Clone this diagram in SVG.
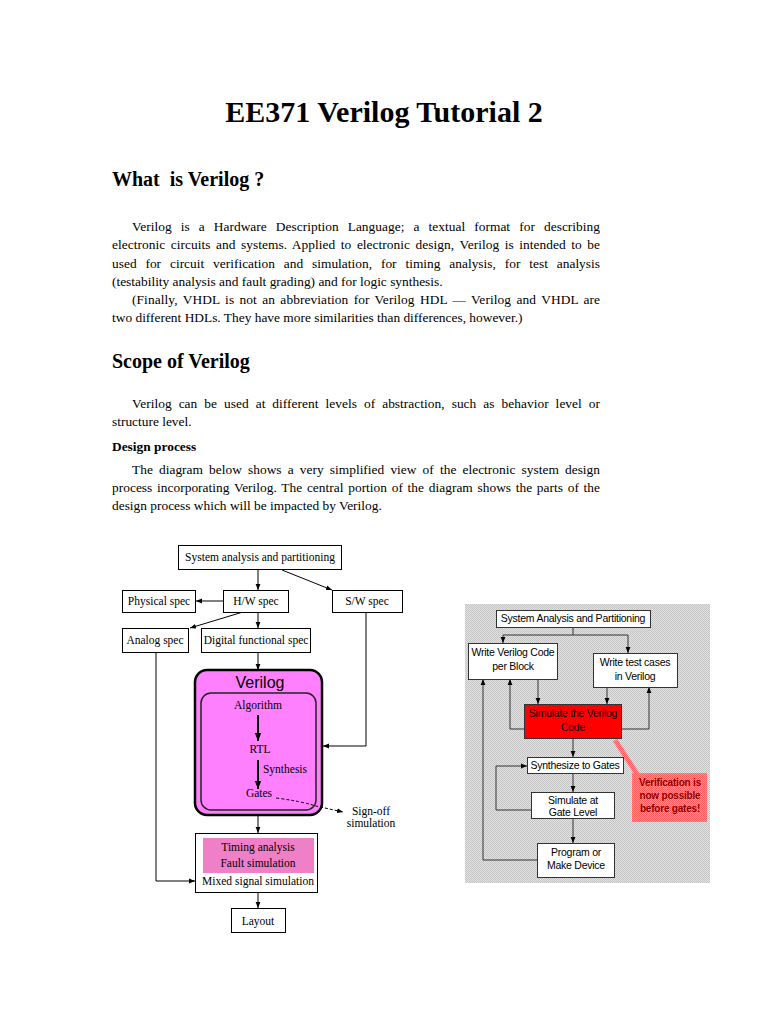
<svg xmlns="http://www.w3.org/2000/svg" width="768" height="1024" viewBox="0 0 768 1024">
<defs>
<style>
.serif{font-family:"Liberation Serif","Times New Roman",serif;fill:#000}
.body{font-family:"Liberation Serif","Times New Roman",serif;font-size:13.4px;fill:#000}
.h1{font-family:"Liberation Serif","Times New Roman",serif;font-size:30px;font-weight:bold}
.h2{font-family:"Liberation Serif","Times New Roman",serif;font-size:20px;font-weight:bold;white-space:pre}
.lt{font-family:"Liberation Serif","Times New Roman",serif;font-size:11.5px;text-anchor:middle;fill:#000}
.rt{font-family:"Liberation Sans",Arial,sans-serif;font-size:10.5px;letter-spacing:-0.25px;text-anchor:middle;fill:#000}
.ct{font-family:"Liberation Sans",Arial,sans-serif;font-size:10px;font-weight:bold;letter-spacing:-0.2px;text-anchor:middle;fill:#8a0000}
.lbox{fill:#fff;stroke:#000;stroke-width:1}
.rbox{fill:#fff;stroke:#333;stroke-width:1}
.ln{fill:none;stroke:#000;stroke-width:1}
.rln{fill:none;stroke:#333;stroke-width:1}
</style>
<marker id="ah" viewBox="0 0 10 10" refX="10" refY="5" markerWidth="6" markerHeight="6" markerUnits="userSpaceOnUse" orient="auto"><path d="M0,1 L10,5 L0,9 z" fill="#000"/></marker>
<marker id="ahb" viewBox="0 0 10 10" refX="10" refY="5" markerWidth="8" markerHeight="8" markerUnits="userSpaceOnUse" orient="auto"><path d="M0,1 L10,5 L0,9 z" fill="#000"/></marker>
<pattern id="gray" width="2" height="2" patternUnits="userSpaceOnUse"><rect width="2" height="2" fill="#e2e2e2"/><rect width="1" height="1" fill="#c4c4c4"/><rect x="1" y="1" width="1" height="1" fill="#c4c4c4"/></pattern>
<pattern id="pink" width="2" height="2" patternUnits="userSpaceOnUse"><rect width="2" height="2" fill="#ff9a9a"/><rect width="1" height="1" fill="#ff5c5c"/><rect x="1" y="1" width="1" height="1" fill="#ff5c5c"/></pattern>
</defs>
<rect width="768" height="1024" fill="#fff"/>

<g id="text">
<text class="h1" x="384" y="122" text-anchor="middle">EE371 Verilog Tutorial 2</text>
<text class="h2" x="112" y="186">What  is Verilog ?</text>
<text class="body" x="132" y="231" word-spacing="5.7" textLength="468" lengthAdjust="spacing">Verilog is a Hardware Description Language; a textual format for describing</text>
<text class="body" x="112" y="249" word-spacing="2.2" textLength="488" lengthAdjust="spacing">electronic circuits and systems. Applied to electronic design, Verilog is intended to be</text>
<text class="body" x="112" y="268" word-spacing="5.5" textLength="488" lengthAdjust="spacing">used for circuit verification and simulation, for timing analysis, for test analysis</text>
<text class="body" x="112" y="286">(testability analysis and fault grading) and for logic synthesis.</text>
<text class="body" x="132" y="304" word-spacing="1.9" textLength="468" lengthAdjust="spacing">(Finally, VHDL is not an abbreviation for Verilog HDL — Verilog and VHDL are</text>
<text class="body" x="112" y="322">two different HDLs. They have more similarities than differences, however.)</text>
<text class="h2" x="112" y="368">Scope of Verilog</text>
<text class="body" x="132" y="408" word-spacing="3.6" textLength="468" lengthAdjust="spacing">Verilog can be used at different levels of abstraction, such as behavior level or</text>
<text class="body" x="112" y="426">structure level.</text>
<text class="body" x="112" y="451" font-weight="bold">Design process</text>
<text class="body" x="132" y="474" word-spacing="2.8" textLength="468" lengthAdjust="spacing">The diagram below shows a very simplified view of the electronic system design</text>
<text class="body" x="112" y="492" word-spacing="1.3" textLength="488" lengthAdjust="spacing">process incorporating Verilog. The central portion of the diagram shows the parts of the</text>
<text class="body" x="112" y="510">design process which will be impacted by Verilog.</text>
</g>

<!-- Left diagram -->
<g id="left-connectors">
<path class="ln" d="M258,569 V590" marker-end="url(#ah)"/>
<path class="ln" d="M282,570 L332,590" stroke="#333" marker-end="url(#ah)"/>
<path class="ln" d="M223,601 H196" marker-end="url(#ah)"/>
<path class="ln" d="M243,612 L190,628" stroke="#333" marker-end="url(#ah)"/>
<path class="ln" d="M258,612 V628" marker-end="url(#ah)"/>
<path class="ln" d="M258,652 V670" marker-end="url(#ah)"/>
<path class="ln" d="M366,612 V746 H323" marker-end="url(#ah)"/>
<path class="ln" d="M156,652 V881 H195" marker-end="url(#ah)"/>
<path class="ln" d="M258,816 V833" marker-end="url(#ah)"/>
<path class="ln" d="M258,892 V908" marker-end="url(#ah)"/>
</g>
<g id="n-system">
<rect class="lbox" x="178.5" y="545.5" width="163" height="24"/>
<text class="lt" x="260" y="561">System analysis and partitioning</text>
</g>
<g id="n-physical">
<rect class="lbox" x="122.5" y="590.5" width="73" height="22"/>
<text class="lt" x="159" y="605">Physical spec</text>
</g>
<g id="n-hw">
<rect class="lbox" x="223.5" y="590.5" width="65" height="22"/>
<text class="lt" x="256" y="605">H/W spec</text>
</g>
<g id="n-sw">
<rect class="lbox" x="332.5" y="590.5" width="70" height="22"/>
<text class="lt" x="367" y="605">S/W spec</text>
</g>
<g id="n-analog">
<rect class="lbox" x="122.5" y="628.5" width="66" height="24"/>
<text class="lt" x="155" y="644">Analog spec</text>
</g>
<g id="n-digital">
<rect class="lbox" x="201.5" y="628.5" width="109" height="24"/>
<text class="lt" x="256" y="644">Digital functional spec</text>
</g>
<g id="n-verilog">
<rect x="195" y="670" width="127" height="145" rx="12" fill="#ff80ff" stroke="#000" stroke-width="2.5"/>
<rect x="201" y="693" width="115" height="117" rx="10" fill="none" stroke="#222" stroke-width="1.5"/>
<text x="260" y="688" font-family="'Liberation Sans',Arial,sans-serif" font-size="16" text-anchor="middle">Verilog</text>
<text class="lt" x="258" y="709">Algorithm</text>
<path d="M258,715 V741" stroke="#000" stroke-width="2" fill="none" marker-end="url(#ahb)"/>
<text class="lt" x="260" y="753">RTL</text>
<path d="M258,760 V789" stroke="#000" stroke-width="2" fill="none" marker-end="url(#ahb)"/>
<text class="lt" x="285" y="773">Synthesis</text>
<text class="lt" x="259" y="797">Gates</text>
</g>
<g id="n-signoff">
<path d="M276,798 Q300,801 316,806 L343,812" fill="none" stroke="#000" stroke-width="1" stroke-dasharray="3,2" marker-end="url(#ah)"/>
<text class="lt" x="371" y="815" font-size="11">Sign-off</text>
<text class="lt" x="371" y="827" font-size="11">simulation</text>
</g>
<g id="n-mixed">
<rect class="lbox" x="195.5" y="833.5" width="122" height="59"/>
<rect x="203" y="838" width="111" height="35" fill="#ef80c8"/>
<text class="lt" x="258" y="851">Timing analysis</text>
<text class="lt" x="258" y="867">Fault simulation</text>
<text class="lt" x="258" y="885">Mixed signal simulation</text>
</g>
<g id="n-layout">
<rect class="lbox" x="231.5" y="908.5" width="54" height="24"/>
<text class="lt" x="258" y="925">Layout</text>
</g>

<!-- Right diagram -->
<rect id="right-bg" x="465" y="604" width="245" height="279" fill="url(#gray)"/>
<g id="right-connectors">
<path class="rln" d="M573,627 V635 M503,635 H628"/>
<path class="rln" d="M503,635 V643" marker-end="url(#ah)"/>
<path class="rln" d="M628,635 V653" marker-end="url(#ah)"/>
<path class="rln" d="M538,679 V704" marker-end="url(#ah)"/>
<path class="rln" d="M607,687 V704" marker-end="url(#ah)"/>
<path class="rln" d="M524,729 H510 V679" marker-end="url(#ah)"/>
<path class="rln" d="M621,729 H649 V687" marker-end="url(#ah)"/>
<path class="rln" d="M537,860 H483 V679" marker-end="url(#ah)"/>
<path class="rln" d="M573,738 V757" marker-end="url(#ah)"/>
<path class="rln" d="M573,773 V792" marker-end="url(#ah)"/>
<path class="rln" d="M531,810 H496 V766 H527" marker-end="url(#ah)"/>
<path class="rln" d="M573,818 V843" marker-end="url(#ah)"/>
<path d="M615,740 L637,774" stroke="url(#pink)" stroke-width="5" fill="none"/>
</g>
<g id="r-system">
<rect class="rbox" x="496.5" y="610.5" width="154" height="17"/>
<text class="rt" x="573" y="622">System Analysis and Partitioning</text>
</g>
<g id="r-write-code">
<rect class="rbox" x="468.5" y="643.5" width="89" height="36"/>
<text class="rt" x="513" y="656">Write Verilog Code</text>
<text class="rt" x="513" y="670">per Block</text>
</g>
<g id="r-write-tests">
<rect class="rbox" x="593.5" y="653.5" width="84" height="34"/>
<text class="rt" x="635" y="666">Write test cases</text>
<text class="rt" x="635" y="680">in Verilog</text>
</g>
<g id="r-simulate">
<rect x="524.5" y="704.5" width="97" height="34" fill="#ff0000" stroke="#333" stroke-width="1"/>
<text class="rt" x="573" y="717" fill="#9a0000">Simulate the Verilog</text>
<text class="rt" x="573" y="731" fill="#9a0000">Code</text>
</g>
<g id="r-synth">
<rect class="rbox" x="527.5" y="757.5" width="96" height="16"/>
<text class="rt" x="575" y="769">Synthesize to Gates</text>
</g>
<g id="r-gatesim">
<rect class="rbox" x="531.5" y="792.5" width="83" height="26"/>
<text class="rt" x="573" y="804">Simulate at</text>
<text class="rt" x="573" y="816">Gate Level</text>
</g>
<g id="r-program">
<rect class="rbox" x="537.5" y="843.5" width="77" height="34"/>
<text class="rt" x="576" y="856">Program or</text>
<text class="rt" x="576" y="869">Make Device</text>
</g>
<g id="r-callout">
<rect x="632" y="773" width="75" height="49" fill="url(#pink)"/>
<text class="ct" x="670" y="786">Verification is</text>
<text class="ct" x="670" y="799">now possible</text>
<text class="ct" x="670" y="812">before gates!</text>
</g>
</svg>
